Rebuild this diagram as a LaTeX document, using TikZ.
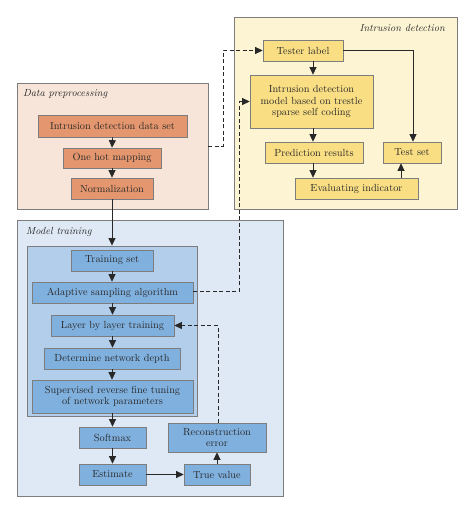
\documentclass[tikz,border=0pt]{standalone}
\usetikzlibrary{arrows.meta,positioning}
\definecolor{dpfill}{RGB}{246,229,216}
\definecolor{dpbox}{RGB}{228,150,110}
\definecolor{idfill}{RGB}{253,244,212}
\definecolor{idbox}{RGB}{249,222,132}
\definecolor{mtfill}{RGB}{222,233,245}
\definecolor{mtinner}{RGB}{178,206,234}
\definecolor{mtbox}{RGB}{128,176,222}
\definecolor{edge}{RGB}{125,125,125}
\definecolor{ink}{RGB}{40,40,40}
\tikzset{
  panel/.style={draw=edge, line width=0.9pt, inner sep=0pt},
  boxbase/.style={draw=edge, line width=0.7pt, inner sep=1pt, align=center, text=ink, font=\fontsize{10.3}{11.5}\selectfont},
  obox/.style={boxbase, fill=dpbox},
  ybox/.style={boxbase, fill=idbox},
  bbox/.style={boxbase, fill=mtbox},
  plabel/.style={font=\itshape\fontsize{10.3}{12}\selectfont, text=ink, inner sep=0pt},
  arr/.style={draw=ink, line width=0.8pt, -{Triangle[length=7.5pt,width=7pt]}},
  darr/.style={arr, dash pattern=on 4pt off 2.5pt},
}
\begin{document}
\begin{tikzpicture}[x=1pt,y=-1pt]
\useasboundingbox (0,0) rectangle (474,513);
% panels
\node[panel, fill=dpfill, minimum width=191pt, minimum height=126pt] (dp) at (112.5,146) {};
\node[panel, fill=idfill, minimum width=223pt, minimum height=192pt] (id) at (345.5,113) {};
\node[panel, fill=mtfill, minimum width=266pt, minimum height=276pt] (mt) at (150,358) {};
\node[panel, fill=mtinner, minimum width=170pt, minimum height=170pt] (inner) at (112,331) {};
% panel labels
\node[plabel, anchor=west] (dplab) at (23,94) {Data preprocessing};
\node[plabel, anchor=east] (idlab) at (445,28) {Intrusion detection};
\node[plabel, anchor=west] (mtlab) at (26,232) {Model training};
% data preprocessing
\node[obox, minimum width=149pt, minimum height=22pt] (idds) at (112.5,126) {Intrusion detection data set};
\node[obox, minimum width=98pt, minimum height=20pt] (ohm) at (112,158) {One hot mapping};
\node[obox, minimum width=82pt, minimum height=21pt] (norm) at (112,188.5) {Normalization};
% intrusion detection
\node[ybox, minimum width=80pt, minimum height=21pt] (tester) at (303,50.5) {Tester label};
\node[ybox, minimum width=123pt, minimum height=53pt] (model) at (311.5,101.5) {Intrusion detection\\model based on trestle\\sparse self coding};
\node[ybox, minimum width=98pt, minimum height=21pt] (pred) at (314,152.5) {Prediction results};
\node[ybox, minimum width=58pt, minimum height=21pt] (testset) at (412,152.5) {Test set};
\node[ybox, minimum width=123pt, minimum height=21pt] (evalind) at (356.5,188.5) {Evaluating indicator};
% model training
\node[bbox, minimum width=82pt, minimum height=21pt] (trainset) at (112,260.5) {Training set};
\node[bbox, minimum width=161pt, minimum height=21pt] (adaptive) at (112.5,292.5) {Adaptive sampling algorithm};
\node[bbox, minimum width=123pt, minimum height=21pt] (layer) at (112.5,325.5) {Layer by layer training};
\node[bbox, minimum width=136pt, minimum height=21pt] (determine) at (112,358.5) {Determine network depth};
\node[bbox, minimum width=161pt, minimum height=33pt] (supervised) at (112.5,396.5) {Supervised reverse fine tuning\\of network parameters};
\node[bbox, minimum width=67pt, minimum height=21pt] (softmax) at (112.5,437.5) {Softmax};
\node[bbox, minimum width=67pt, minimum height=21pt] (estimate) at (112.5,474.5) {Estimate};
\node[bbox, minimum width=66pt, minimum height=21pt] (truevalue) at (217,474.5) {True value};
\node[bbox, minimum width=98pt, minimum height=29pt] (recon) at (217,437.5) {Reconstruction\\error};
% arrows: data preprocessing
\draw[arr] (idds.south) -- (ohm.north);
\draw[arr] (ohm.south) -- (norm.north);
\draw[arr] (norm.south) -- (inner.north);
% arrows: intrusion detection
\draw[arr] ([xshift=1.5pt]model.north |- tester.south) -- ([xshift=1.5pt]model.north);
\draw[arr] ([xshift=1.5pt]model.south) -- ([xshift=1.5pt]model.south |- pred.north);
\draw[arr] ([xshift=-1pt]pred.south) -- ([xshift=-1pt]pred.south |- evalind.north);
\draw[arr] (tester.east) -| ([xshift=1pt]testset.north);
\draw[arr] ([xshift=-11pt]testset.south |- evalind.north) -- ([xshift=-11pt]testset.south);
% arrows: model training
\draw[arr] (trainset.south) -- (trainset.south |- adaptive.north);
\draw[arr] (adaptive.south) -- (adaptive.south |- layer.north);
\draw[arr] (layer.south) -- (layer.south |- determine.north);
\draw[arr] (determine.south) -- (determine.south |- supervised.north);
\draw[arr] (supervised.south) -- (supervised.south |- softmax.north);
\draw[arr] (softmax.south) -- (estimate.north);
\draw[arr] (estimate.east) -- (truevalue.west);
\draw[arr] (truevalue.north) -- (recon.south);
% dashed connectors
\draw[darr] (dp.east) -- ++(15,0) |- (tester.west);
\draw[darr] ([yshift=1.5pt]adaptive.east) -| ([xshift=-10pt]model.west) -- (model.west);
\draw[darr] ([xshift=1pt]recon.north) |- (layer.east);
\end{tikzpicture}
\end{document}
